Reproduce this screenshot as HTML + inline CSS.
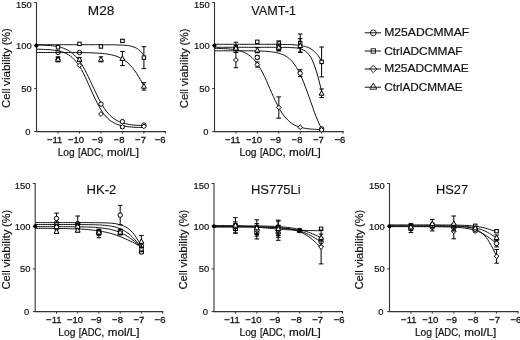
<!DOCTYPE html>
<html><head><meta charset="utf-8"><title>Cell viability</title>
<style>
html,body{margin:0;padding:0;background:#fff;}
svg{display:block}
text{font-family:"Liberation Sans","DejaVu Sans",sans-serif;fill:#111;stroke:#111;stroke-width:0.12px}
.yt{font-size:9.4px;stroke-width:0.2px}
.xt{font-size:9.5px;stroke-width:0.28px}
.xl{font-size:11px;stroke-width:0.22px}
.yl{font-size:11.8px;stroke-width:0.18px}
.tt{font-size:12.4px}
.lg{font-size:11.3px;stroke-width:0.2px}
</style></head><body>
<svg width="520" height="340" viewBox="0 0 520 340">
<rect width="520" height="340" fill="#fff"/>
<path d="M36.5 2.3V131.6H166" fill="none" stroke="#333" stroke-width="1.1"/>
<path d="M34.1 131.6H36.5" stroke="#333" stroke-width="1"/>
<text x="30.5" y="134.9" text-anchor="end" class="yt">0</text>
<path d="M34.1 88.6H36.5" stroke="#333" stroke-width="1"/>
<text x="31.7" y="91.9" text-anchor="end" class="yt">50</text>
<path d="M34.1 45.6H36.5" stroke="#333" stroke-width="1"/>
<text x="31.7" y="48.9" text-anchor="end" class="yt">100</text>
<path d="M34.1 2.6H36.5" stroke="#333" stroke-width="1"/>
<text x="31.7" y="7.8" text-anchor="end" class="yt">150</text>
<path d="M58 131.6v2" stroke="#333" stroke-width="1"/>
<text x="54.6" y="143.3" text-anchor="middle" class="xt">−11</text>
<path d="M79.5 131.6v2" stroke="#333" stroke-width="1"/>
<text x="76.1" y="143.3" text-anchor="middle" class="xt">−10</text>
<path d="M101 131.6v2" stroke="#333" stroke-width="1"/>
<text x="97.5" y="143.3" text-anchor="middle" class="xt">−9</text>
<path d="M122.4 131.6v2" stroke="#333" stroke-width="1"/>
<text x="119" y="143.3" text-anchor="middle" class="xt">−8</text>
<path d="M143.9 131.6v2" stroke="#333" stroke-width="1"/>
<text x="140.5" y="143.3" text-anchor="middle" class="xt">−7</text>
<path d="M165.4 131.6v2" stroke="#333" stroke-width="1"/>
<text x="160.2" y="143.3" text-anchor="middle" class="xt">−6</text>
<text y="155.7" class="xl"><tspan x="57.7" textLength="17" lengthAdjust="spacingAndGlyphs">Log</tspan> <tspan x="78.1" textLength="25.4" lengthAdjust="spacingAndGlyphs">[ADC,</tspan> <tspan x="107.1" textLength="31.9" lengthAdjust="spacingAndGlyphs">mol/L]</tspan></text>
<text transform="translate(9.5 67.9) rotate(-90)" class="yl"><tspan x="-40" textLength="19.3" lengthAdjust="spacingAndGlyphs">Cell</tspan> <tspan x="-18" textLength="38" lengthAdjust="spacingAndGlyphs">viability</tspan> <tspan x="22.6" textLength="17" lengthAdjust="spacingAndGlyphs">(%)</tspan></text>
<text x="87.8" y="14.6" class="tt" textLength="26.5" lengthAdjust="spacingAndGlyphs">M28</text>
<path d="M36.5 44.9 L38.3 45 L40.1 45 L41.9 45.1 L43.7 45.2 L45.5 45.3 L47.2 45.4 L49 45.5 L50.8 45.7 L52.6 45.9 L54.4 46.1 L56.2 46.4 L58 46.7 L59.8 47.1 L61.6 47.6 L63.4 48.2 L65.1 48.9 L66.9 49.7 L68.7 50.7 L70.5 51.9 L72.3 53.2 L74.1 54.8 L75.9 56.6 L77.7 58.7 L79.5 61.1 L81.3 63.7 L83 66.6 L84.8 69.8 L86.6 73.3 L88.4 76.9 L90.2 80.7 L92 84.6 L93.8 88.5 L95.6 92.3 L97.4 96 L99.2 99.6 L101 102.9 L102.7 105.9 L104.5 108.7 L106.3 111.1 L108.1 113.3 L109.9 115.3 L111.7 116.9 L113.5 118.4 L115.3 119.6 L117.1 120.6 L118.9 121.5 L120.6 122.3 L122.4 122.9 L124.2 123.4 L126 123.9 L127.8 124.2 L129.6 124.5 L131.4 124.8 L133.2 125 L135 125.2 L136.8 125.3 L138.5 125.4 L140.3 125.5 L142.1 125.6 L143.9 125.7" fill="none" stroke="#111" stroke-width="1.0"/>
<circle cx="58" cy="52.5" r="2.2" fill="#fff" stroke="#000" stroke-width="1.0"/>
<circle cx="79.5" cy="52.5" r="2.2" fill="#fff" stroke="#000" stroke-width="1.0"/>
<circle cx="101" cy="104.1" r="2.2" fill="#fff" stroke="#000" stroke-width="1.0"/>
<circle cx="122.4" cy="121.6" r="2.2" fill="#fff" stroke="#000" stroke-width="1.0"/>
<circle cx="143.9" cy="125.1" r="2.2" fill="#fff" stroke="#000" stroke-width="1.0"/>
<path d="M36.5 44.7 L38.3 44.7 L40.1 44.7 L41.9 44.7 L43.7 44.7 L45.5 44.7 L47.2 44.7 L49 44.7 L50.8 44.7 L52.6 44.7 L54.4 44.7 L56.2 44.7 L58 44.7 L59.8 44.7 L61.6 44.7 L63.4 44.7 L65.1 44.7 L66.9 44.7 L68.7 44.7 L70.5 44.7 L72.3 44.7 L74.1 44.7 L75.9 44.7 L77.7 44.7 L79.5 44.7 L81.3 44.7 L83 44.7 L84.8 44.7 L86.6 44.7 L88.4 44.7 L90.2 44.7 L92 44.7 L93.8 44.7 L95.6 44.7 L97.4 44.7 L99.2 44.7 L101 44.8 L102.7 44.8 L104.5 44.8 L106.3 44.8 L108.1 44.8 L109.9 44.8 L111.7 44.8 L113.5 44.8 L115.3 44.9 L117.1 44.9 L118.9 45 L120.6 45 L122.4 45.1 L124.2 45.2 L126 45.4 L127.8 45.6 L129.6 45.9 L131.4 46.3 L133.2 46.8 L135 47.5 L136.8 48.4 L138.5 49.6 L140.3 51.1 L142.1 53 L143.9 55.4" fill="none" stroke="#111" stroke-width="1.0"/>
<path d="M122.4 39.6V42.2M120.1 39.6H124.7M120.1 42.2H124.7" fill="none" stroke="#000" stroke-width="1.0"/>
<path d="M143.9 46.7V68.6M141.6 46.7H146.2M141.6 68.6H146.2" fill="none" stroke="#000" stroke-width="1.0"/>
<rect x="56.3" y="45.6" width="3.4" height="3.4" fill="#fff" stroke="#000" stroke-width="1.0"/>
<rect x="77.8" y="42.2" width="3.4" height="3.4" fill="#fff" stroke="#000" stroke-width="1.0"/>
<rect x="99.2" y="44.8" width="3.4" height="3.4" fill="#fff" stroke="#000" stroke-width="1.0"/>
<rect x="120.7" y="39.2" width="3.4" height="3.4" fill="#fff" stroke="#000" stroke-width="1.0"/>
<rect x="142.2" y="55.9" width="3.4" height="3.4" fill="#fff" stroke="#000" stroke-width="1.0"/>
<path d="M36.5 49.2 L38.3 49.2 L40.1 49.3 L41.9 49.3 L43.7 49.4 L45.5 49.5 L47.2 49.6 L49 49.7 L50.8 49.8 L52.6 50 L54.4 50.2 L56.2 50.5 L58 50.8 L59.8 51.2 L61.6 51.7 L63.4 52.3 L65.1 53 L66.9 53.9 L68.7 54.9 L70.5 56.2 L72.3 57.6 L74.1 59.4 L75.9 61.4 L77.7 63.7 L79.5 66.3 L81.3 69.3 L83 72.5 L84.8 76.1 L86.6 79.9 L88.4 83.8 L90.2 87.9 L92 92 L93.8 96 L95.6 99.8 L97.4 103.4 L99.2 106.7 L101 109.8 L102.7 112.5 L104.5 114.9 L106.3 116.9 L108.1 118.7 L109.9 120.3 L111.7 121.5 L113.5 122.6 L115.3 123.5 L117.1 124.3 L118.9 124.9 L120.6 125.4 L122.4 125.8 L124.2 126.2 L126 126.5 L127.8 126.7 L129.6 126.9 L131.4 127 L133.2 127.2 L135 127.3 L136.8 127.4 L138.5 127.4 L140.3 127.5 L142.1 127.5 L143.9 127.6" fill="none" stroke="#111" stroke-width="1.0"/>
<path d="M58 57.6V61.1M55.7 57.6H60.3M55.7 61.1H60.3" fill="none" stroke="#000" stroke-width="1.0"/>
<path d="M122.4 125.6V128.2M120.1 125.6H124.7M120.1 128.2H124.7" fill="none" stroke="#000" stroke-width="1.0"/>
<path d="M58 57L60.4 59.4L58 61.8L55.6 59.4Z" fill="#fff" stroke="#000" stroke-width="1.0"/>
<path d="M79.5 63L81.9 65.4L79.5 67.8L77.1 65.4Z" fill="#fff" stroke="#000" stroke-width="1.0"/>
<path d="M101 111.6L103.4 114L101 116.4L98.5 114Z" fill="#fff" stroke="#000" stroke-width="1.0"/>
<path d="M122.4 124.5L124.8 126.9L122.4 129.3L120 126.9Z" fill="#fff" stroke="#000" stroke-width="1.0"/>
<path d="M143.9 124L146.3 126.4L143.9 128.8L141.5 126.4Z" fill="#fff" stroke="#000" stroke-width="1.0"/>
<path d="M36.5 52.5 L38.3 52.5 L40.1 52.5 L41.9 52.5 L43.7 52.5 L45.5 52.5 L47.2 52.5 L49 52.5 L50.8 52.5 L52.6 52.5 L54.4 52.5 L56.2 52.5 L58 52.5 L59.8 52.5 L61.6 52.5 L63.4 52.5 L65.1 52.5 L66.9 52.5 L68.7 52.5 L70.5 52.5 L72.3 52.5 L74.1 52.5 L75.9 52.6 L77.7 52.6 L79.5 52.6 L81.3 52.6 L83 52.6 L84.8 52.7 L86.6 52.7 L88.4 52.7 L90.2 52.8 L92 52.8 L93.8 52.9 L95.6 53 L97.4 53.1 L99.2 53.2 L101 53.3 L102.7 53.5 L104.5 53.7 L106.3 53.9 L108.1 54.2 L109.9 54.5 L111.7 54.9 L113.5 55.3 L115.3 55.8 L117.1 56.5 L118.9 57.2 L120.6 58 L122.4 59 L124.2 60.1 L126 61.4 L127.8 62.9 L129.6 64.6 L131.4 66.5 L133.2 68.7 L135 71 L136.8 73.6 L138.5 76.5 L140.3 79.5 L142.1 82.7 L143.9 86" fill="none" stroke="#111" stroke-width="1.0"/>
<path d="M58 56.8V61.9M55.7 56.8H60.3M55.7 61.9H60.3" fill="none" stroke="#000" stroke-width="1.0"/>
<path d="M79.5 57.6V61.1M77.2 57.6H81.8M77.2 61.1H81.8" fill="none" stroke="#000" stroke-width="1.0"/>
<path d="M101 56.8V61.9M98.7 56.8H103.2M98.7 61.9H103.2" fill="none" stroke="#000" stroke-width="1.0"/>
<path d="M122.4 51.4V65.6M120.1 51.4H124.7M120.1 65.6H124.7" fill="none" stroke="#000" stroke-width="1.0"/>
<path d="M143.9 82.7V90.1M141.6 82.7H146.2M141.6 90.1H146.2" fill="none" stroke="#000" stroke-width="1.0"/>
<path d="M58 56.9L60.5 61.2L55.5 61.2Z" fill="#fff" stroke="#000" stroke-width="1.0"/>
<path d="M79.5 56.9L82 61.2L77 61.2Z" fill="#fff" stroke="#000" stroke-width="1.0"/>
<path d="M101 56.9L103.5 61.2L98.5 61.2Z" fill="#fff" stroke="#000" stroke-width="1.0"/>
<path d="M122.4 56L124.9 60.4L119.9 60.4Z" fill="#fff" stroke="#000" stroke-width="1.0"/>
<path d="M143.9 83.9L146.4 88.2L141.4 88.2Z" fill="#fff" stroke="#000" stroke-width="1.0"/>
<circle cx="36.5" cy="45.6" r="2.05" fill="#000"/>
<path d="M214.5 2.3V131.6H343.6" fill="none" stroke="#333" stroke-width="1.1"/>
<path d="M212.1 131.6H214.5" stroke="#333" stroke-width="1"/>
<text x="208.5" y="134.9" text-anchor="end" class="yt">0</text>
<path d="M212.1 88.6H214.5" stroke="#333" stroke-width="1"/>
<text x="209.7" y="91.9" text-anchor="end" class="yt">50</text>
<path d="M212.1 45.6H214.5" stroke="#333" stroke-width="1"/>
<text x="209.7" y="48.9" text-anchor="end" class="yt">100</text>
<path d="M212.1 2.6H214.5" stroke="#333" stroke-width="1"/>
<text x="209.7" y="7.8" text-anchor="end" class="yt">150</text>
<path d="M235.9 131.6v2" stroke="#333" stroke-width="1"/>
<text x="232.7" y="143.3" text-anchor="middle" class="xt">−11</text>
<path d="M257.3 131.6v2" stroke="#333" stroke-width="1"/>
<text x="254.1" y="143.3" text-anchor="middle" class="xt">−10</text>
<path d="M278.8 131.6v2" stroke="#333" stroke-width="1"/>
<text x="275.6" y="143.3" text-anchor="middle" class="xt">−9</text>
<path d="M300.2 131.6v2" stroke="#333" stroke-width="1"/>
<text x="297" y="143.3" text-anchor="middle" class="xt">−8</text>
<path d="M321.6 131.6v2" stroke="#333" stroke-width="1"/>
<text x="318.4" y="143.3" text-anchor="middle" class="xt">−7</text>
<path d="M343 131.6v2" stroke="#333" stroke-width="1"/>
<text x="339.8" y="143.3" text-anchor="middle" class="xt">−6</text>
<text y="155.7" class="xl"><tspan x="239.5" textLength="17" lengthAdjust="spacingAndGlyphs">Log</tspan> <tspan x="259.9" textLength="25.4" lengthAdjust="spacingAndGlyphs">[ADC,</tspan> <tspan x="288.9" textLength="31.9" lengthAdjust="spacingAndGlyphs">mol/L]</tspan></text>
<text transform="translate(187.5 68.2) rotate(-90)" class="yl"><tspan x="-40" textLength="19.3" lengthAdjust="spacingAndGlyphs">Cell</tspan> <tspan x="-18" textLength="38" lengthAdjust="spacingAndGlyphs">viability</tspan> <tspan x="22.6" textLength="17" lengthAdjust="spacingAndGlyphs">(%)</tspan></text>
<text x="251.2" y="14.6" class="tt" textLength="44.8" lengthAdjust="spacingAndGlyphs">VAMT-1</text>
<path d="M214.5 50.8 L216.3 50.8 L218.1 50.8 L219.9 50.8 L221.6 50.8 L223.4 50.8 L225.2 50.8 L227 50.8 L228.8 50.8 L230.6 50.8 L232.3 50.8 L234.1 50.8 L235.9 50.8 L237.7 50.8 L239.5 50.8 L241.3 50.8 L243.1 50.8 L244.8 50.8 L246.6 50.8 L248.4 50.8 L250.2 50.8 L252 50.9 L253.8 50.9 L255.5 50.9 L257.3 51 L259.1 51 L260.9 51.1 L262.7 51.1 L264.5 51.2 L266.3 51.3 L268 51.5 L269.8 51.6 L271.6 51.8 L273.4 52.1 L275.2 52.4 L277 52.8 L278.8 53.2 L280.5 53.8 L282.3 54.4 L284.1 55.2 L285.9 56.2 L287.7 57.4 L289.5 58.8 L291.2 60.5 L293 62.5 L294.8 64.9 L296.6 67.6 L298.4 70.7 L300.2 74.3 L302 78.2 L303.7 82.5 L305.5 87.2 L307.3 92.1 L309.1 97.1 L310.9 102.2 L312.7 107.3 L314.4 112.2 L316.2 116.9 L318 121.2 L319.8 125.2 L321.6 128.7" fill="none" stroke="#111" stroke-width="1.0"/>
<path d="M257.3 55.7V59.1M255 55.7H259.6M255 59.1H259.6" fill="none" stroke="#000" stroke-width="1.0"/>
<path d="M278.8 45.6V50.8M276.4 45.6H281.1M276.4 50.8H281.1" fill="none" stroke="#000" stroke-width="1.0"/>
<path d="M300.2 69.8V76.6M297.9 69.8H302.5M297.9 76.6H302.5" fill="none" stroke="#000" stroke-width="1.0"/>
<circle cx="235.9" cy="48.2" r="2.2" fill="#fff" stroke="#000" stroke-width="1.0"/>
<circle cx="257.3" cy="57.4" r="2.2" fill="#fff" stroke="#000" stroke-width="1.0"/>
<circle cx="278.8" cy="48.2" r="2.2" fill="#fff" stroke="#000" stroke-width="1.0"/>
<circle cx="300.2" cy="73.2" r="2.2" fill="#fff" stroke="#000" stroke-width="1.0"/>
<circle cx="321.6" cy="128.8" r="2.2" fill="#fff" stroke="#000" stroke-width="1.0"/>
<path d="M214.5 44.3 L216.3 44.3 L218.1 44.3 L219.9 44.3 L221.6 44.3 L223.4 44.3 L225.2 44.3 L227 44.3 L228.8 44.3 L230.6 44.3 L232.3 44.3 L234.1 44.3 L235.9 44.3 L237.7 44.3 L239.5 44.3 L241.3 44.3 L243.1 44.3 L244.8 44.3 L246.6 44.3 L248.4 44.3 L250.2 44.3 L252 44.3 L253.8 44.3 L255.5 44.3 L257.3 44.3 L259.1 44.3 L260.9 44.3 L262.7 44.3 L264.5 44.3 L266.3 44.3 L268 44.3 L269.8 44.3 L271.6 44.3 L273.4 44.3 L275.2 44.3 L277 44.4 L278.8 44.4 L280.5 44.4 L282.3 44.4 L284.1 44.4 L285.9 44.5 L287.7 44.5 L289.5 44.6 L291.2 44.6 L293 44.7 L294.8 44.8 L296.6 45 L298.4 45.2 L300.2 45.4 L302 45.7 L303.7 46.1 L305.5 46.6 L307.3 47.2 L309.1 47.9 L310.9 48.9 L312.7 50.1 L314.4 51.5 L316.2 53.3 L318 55.5 L319.8 58.1 L321.6 61.1" fill="none" stroke="#111" stroke-width="1.0"/>
<path d="M235.9 42.2V52.5M233.6 42.2H238.2M233.6 52.5H238.2" fill="none" stroke="#000" stroke-width="1.0"/>
<path d="M278.8 40.9V46M276.4 40.9H281.1M276.4 46H281.1" fill="none" stroke="#000" stroke-width="1.0"/>
<path d="M300.2 34V52M297.9 34H302.5M297.9 52H302.5" fill="none" stroke="#000" stroke-width="1.0"/>
<path d="M321.6 47V76.9M319.3 47H323.9M319.3 76.9H323.9" fill="none" stroke="#000" stroke-width="1.0"/>
<rect x="234.2" y="45.6" width="3.4" height="3.4" fill="#fff" stroke="#000" stroke-width="1.0"/>
<rect x="255.6" y="40.1" width="3.4" height="3.4" fill="#fff" stroke="#000" stroke-width="1.0"/>
<rect x="277.1" y="41.7" width="3.4" height="3.4" fill="#fff" stroke="#000" stroke-width="1.0"/>
<rect x="298.5" y="41.3" width="3.4" height="3.4" fill="#fff" stroke="#000" stroke-width="1.0"/>
<rect x="319.9" y="60.2" width="3.4" height="3.4" fill="#fff" stroke="#000" stroke-width="1.0"/>
<path d="M214.5 48.3 L216.3 48.4 L218.1 48.4 L219.9 48.5 L221.6 48.5 L223.4 48.6 L225.2 48.7 L227 48.8 L228.8 48.9 L230.6 49.1 L232.3 49.3 L234.1 49.6 L235.9 49.9 L237.7 50.2 L239.5 50.7 L241.3 51.2 L243.1 51.9 L244.8 52.7 L246.6 53.6 L248.4 54.7 L250.2 56 L252 57.6 L253.8 59.4 L255.5 61.5 L257.3 63.8 L259.1 66.6 L260.9 69.6 L262.7 72.9 L264.5 76.5 L266.3 80.4 L268 84.4 L269.8 88.5 L271.6 92.6 L273.4 96.6 L275.2 100.5 L277 104.2 L278.8 107.6 L280.5 110.7 L282.3 113.5 L284.1 116 L285.9 118.1 L287.7 120 L289.5 121.6 L291.2 123 L293 124.2 L294.8 125.2 L296.6 126 L298.4 126.7 L300.2 127.2 L302 127.7 L303.7 128.1 L305.5 128.4 L307.3 128.7 L309.1 128.9 L310.9 129.1 L312.7 129.2 L314.4 129.3 L316.2 129.4 L318 129.5 L319.8 129.6 L321.6 129.6" fill="none" stroke="#111" stroke-width="1.0"/>
<path d="M235.9 52.2V67.7M233.6 52.2H238.2M233.6 67.7H238.2" fill="none" stroke="#000" stroke-width="1.0"/>
<path d="M257.3 61.9V67.1M255 61.9H259.6M255 67.1H259.6" fill="none" stroke="#000" stroke-width="1.0"/>
<path d="M278.8 96.9V118.2M276.4 96.9H281.1M276.4 118.2H281.1" fill="none" stroke="#000" stroke-width="1.0"/>
<path d="M235.9 57.6L238.3 60L235.9 62.4L233.5 60Z" fill="#fff" stroke="#000" stroke-width="1.0"/>
<path d="M257.3 62.1L259.7 64.5L257.3 66.9L254.9 64.5Z" fill="#fff" stroke="#000" stroke-width="1.0"/>
<path d="M278.8 105.1L281.1 107.5L278.8 109.9L276.4 107.5Z" fill="#fff" stroke="#000" stroke-width="1.0"/>
<path d="M300.2 124.8L302.6 127.2L300.2 129.6L297.8 127.2Z" fill="#fff" stroke="#000" stroke-width="1.0"/>
<path d="M321.6 127.5L324 129.9L321.6 132.3L319.2 129.9Z" fill="#fff" stroke="#000" stroke-width="1.0"/>
<path d="M214.5 47.3 L216.3 47.3 L218.1 47.3 L219.9 47.3 L221.6 47.3 L223.4 47.3 L225.2 47.3 L227 47.3 L228.8 47.3 L230.6 47.3 L232.3 47.3 L234.1 47.3 L235.9 47.3 L237.7 47.3 L239.5 47.3 L241.3 47.3 L243.1 47.3 L244.8 47.3 L246.6 47.3 L248.4 47.3 L250.2 47.3 L252 47.3 L253.8 47.3 L255.5 47.3 L257.3 47.3 L259.1 47.3 L260.9 47.3 L262.7 47.3 L264.5 47.3 L266.3 47.3 L268 47.3 L269.8 47.3 L271.6 47.3 L273.4 47.3 L275.2 47.3 L277 47.3 L278.8 47.3 L280.5 47.4 L282.3 47.4 L284.1 47.4 L285.9 47.4 L287.7 47.4 L289.5 47.5 L291.2 47.6 L293 47.7 L294.8 47.8 L296.6 48 L298.4 48.3 L300.2 48.7 L302 49.3 L303.7 50.1 L305.5 51.2 L307.3 52.7 L309.1 54.8 L310.9 57.5 L312.7 61 L314.4 65.4 L316.2 70.8 L318 77 L319.8 84 L321.6 91.2" fill="none" stroke="#111" stroke-width="1.0"/>
<path d="M257.3 47.7V52.8M255 47.7H259.6M255 52.8H259.6" fill="none" stroke="#000" stroke-width="1.0"/>
<path d="M278.8 43.9V50.8M276.4 43.9H281.1M276.4 50.8H281.1" fill="none" stroke="#000" stroke-width="1.0"/>
<path d="M300.2 38.7V52.5M297.9 38.7H302.5M297.9 52.5H302.5" fill="none" stroke="#000" stroke-width="1.0"/>
<path d="M321.6 89V97.6M319.3 89H323.9M319.3 97.6H323.9" fill="none" stroke="#000" stroke-width="1.0"/>
<path d="M235.9 45.7L238.4 50.1L233.4 50.1Z" fill="#fff" stroke="#000" stroke-width="1.0"/>
<path d="M257.3 47.7L259.8 52.1L254.8 52.1Z" fill="#fff" stroke="#000" stroke-width="1.0"/>
<path d="M278.8 44.8L281.2 49.2L276.2 49.2Z" fill="#fff" stroke="#000" stroke-width="1.0"/>
<path d="M300.2 43.1L302.7 47.5L297.7 47.5Z" fill="#fff" stroke="#000" stroke-width="1.0"/>
<path d="M321.6 90.8L324.1 95.2L319.1 95.2Z" fill="#fff" stroke="#000" stroke-width="1.0"/>
<circle cx="214.5" cy="45.6" r="2.05" fill="#000"/>
<path d="M35.2 183.2V311.6H163.3" fill="none" stroke="#333" stroke-width="1.1"/>
<path d="M32.8 311.6H35.2" stroke="#333" stroke-width="1"/>
<text x="29.2" y="314.9" text-anchor="end" class="yt">0</text>
<path d="M32.8 268.9H35.2" stroke="#333" stroke-width="1"/>
<text x="30.4" y="272.2" text-anchor="end" class="yt">50</text>
<path d="M32.8 226.2H35.2" stroke="#333" stroke-width="1"/>
<text x="30.4" y="229.5" text-anchor="end" class="yt">100</text>
<path d="M32.8 183.5H35.2" stroke="#333" stroke-width="1"/>
<text x="30.4" y="188.7" text-anchor="end" class="yt">150</text>
<path d="M56.5 311.6v2" stroke="#333" stroke-width="1"/>
<text x="53.8" y="323.3" text-anchor="middle" class="xt">−11</text>
<path d="M77.7 311.6v2" stroke="#333" stroke-width="1"/>
<text x="75" y="323.3" text-anchor="middle" class="xt">−10</text>
<path d="M98.9 311.6v2" stroke="#333" stroke-width="1"/>
<text x="96.2" y="323.3" text-anchor="middle" class="xt">−9</text>
<path d="M120.2 311.6v2" stroke="#333" stroke-width="1"/>
<text x="117.5" y="323.3" text-anchor="middle" class="xt">−8</text>
<path d="M141.4 311.6v2" stroke="#333" stroke-width="1"/>
<text x="138.8" y="323.3" text-anchor="middle" class="xt">−7</text>
<path d="M162.7 311.6v2" stroke="#333" stroke-width="1"/>
<text x="160" y="323.3" text-anchor="middle" class="xt">−6</text>
<text y="335.7" class="xl"><tspan x="58.3" textLength="17" lengthAdjust="spacingAndGlyphs">Log</tspan> <tspan x="78.7" textLength="25.4" lengthAdjust="spacingAndGlyphs">[ADC,</tspan> <tspan x="107.7" textLength="31.9" lengthAdjust="spacingAndGlyphs">mol/L]</tspan></text>
<text transform="translate(9.9 249.5) rotate(-90)" class="yl"><tspan x="-40" textLength="19.3" lengthAdjust="spacingAndGlyphs">Cell</tspan> <tspan x="-18" textLength="38" lengthAdjust="spacingAndGlyphs">viability</tspan> <tspan x="22.6" textLength="17" lengthAdjust="spacingAndGlyphs">(%)</tspan></text>
<text x="86.6" y="193.7" class="tt" textLength="29.8" lengthAdjust="spacingAndGlyphs">HK-2</text>
<path d="M35.2 222.6 L37 222.6 L38.7 222.6 L40.5 222.6 L42.3 222.6 L44.1 222.6 L45.8 222.6 L47.6 222.6 L49.4 222.6 L51.1 222.6 L52.9 222.6 L54.7 222.6 L56.5 222.6 L58.2 222.6 L60 222.6 L61.8 222.6 L63.5 222.6 L65.3 222.6 L67.1 222.6 L68.8 222.6 L70.6 222.6 L72.4 222.6 L74.2 222.6 L75.9 222.6 L77.7 222.6 L79.5 222.6 L81.2 222.6 L83 222.6 L84.8 222.6 L86.6 222.6 L88.3 222.6 L90.1 222.6 L91.9 222.7 L93.6 222.7 L95.4 222.7 L97.2 222.7 L98.9 222.7 L100.7 222.8 L102.5 222.8 L104.3 222.8 L106 222.9 L107.8 223 L109.6 223.1 L111.3 223.2 L113.1 223.4 L114.9 223.6 L116.7 223.9 L118.4 224.3 L120.2 224.7 L122 225.3 L123.7 226 L125.5 226.8 L127.3 227.9 L129.1 229.2 L130.8 230.8 L132.6 232.6 L134.4 234.8 L136.1 237.2 L137.9 240 L139.7 242.9 L141.4 246" fill="none" stroke="#111" stroke-width="1.0"/>
<path d="M56.5 213.1V223.9M54.2 213.1H58.8M54.2 223.9H58.8" fill="none" stroke="#000" stroke-width="1.0"/>
<path d="M77.7 216V231.3M75.4 216H80M75.4 231.3H80" fill="none" stroke="#000" stroke-width="1.0"/>
<path d="M98.9 229.6V234.7M96.6 229.6H101.2M96.6 234.7H101.2" fill="none" stroke="#000" stroke-width="1.0"/>
<path d="M120.2 205.4V224.8M117.9 205.4H122.5M117.9 224.8H122.5" fill="none" stroke="#000" stroke-width="1.0"/>
<path d="M141.4 250.3V253.7M139.1 250.3H143.8M139.1 253.7H143.8" fill="none" stroke="#000" stroke-width="1.0"/>
<circle cx="56.5" cy="218.5" r="2.2" fill="#fff" stroke="#000" stroke-width="1.0"/>
<circle cx="77.7" cy="223.6" r="2.2" fill="#fff" stroke="#000" stroke-width="1.0"/>
<circle cx="98.9" cy="232.2" r="2.2" fill="#fff" stroke="#000" stroke-width="1.0"/>
<circle cx="120.2" cy="215.1" r="2.2" fill="#fff" stroke="#000" stroke-width="1.0"/>
<circle cx="141.4" cy="252" r="2.2" fill="#fff" stroke="#000" stroke-width="1.0"/>
<path d="M35.2 226.6 L37 226.6 L38.7 226.6 L40.5 226.6 L42.3 226.6 L44.1 226.6 L45.8 226.6 L47.6 226.6 L49.4 226.6 L51.1 226.6 L52.9 226.6 L54.7 226.7 L56.5 226.7 L58.2 226.7 L60 226.7 L61.8 226.7 L63.5 226.7 L65.3 226.7 L67.1 226.7 L68.8 226.7 L70.6 226.7 L72.4 226.7 L74.2 226.8 L75.9 226.8 L77.7 226.8 L79.5 226.8 L81.2 226.9 L83 226.9 L84.8 227 L86.6 227 L88.3 227.1 L90.1 227.1 L91.9 227.2 L93.6 227.3 L95.4 227.4 L97.2 227.6 L98.9 227.7 L100.7 227.9 L102.5 228.1 L104.3 228.3 L106 228.6 L107.8 228.9 L109.6 229.2 L111.3 229.6 L113.1 230.1 L114.9 230.6 L116.7 231.2 L118.4 231.8 L120.2 232.6 L122 233.4 L123.7 234.3 L125.5 235.2 L127.3 236.3 L129.1 237.4 L130.8 238.7 L132.6 239.9 L134.4 241.3 L136.1 242.7 L137.9 244.1 L139.7 245.5 L141.4 246.9" fill="none" stroke="#111" stroke-width="1.0"/>
<path d="M56.5 221.9V227.1M54.2 221.9H58.8M54.2 227.1H58.8" fill="none" stroke="#000" stroke-width="1.0"/>
<path d="M77.7 222.8V227.9M75.4 222.8H80M75.4 227.9H80" fill="none" stroke="#000" stroke-width="1.0"/>
<path d="M98.9 229.2V237.7M96.6 229.2H101.2M96.6 237.7H101.2" fill="none" stroke="#000" stroke-width="1.0"/>
<path d="M120.2 231.3V234.7M117.9 231.3H122.5M117.9 234.7H122.5" fill="none" stroke="#000" stroke-width="1.0"/>
<path d="M141.4 246.7V251.8M139.1 246.7H143.8M139.1 251.8H143.8" fill="none" stroke="#000" stroke-width="1.0"/>
<rect x="54.8" y="222.8" width="3.4" height="3.4" fill="#fff" stroke="#000" stroke-width="1.0"/>
<rect x="76" y="223.6" width="3.4" height="3.4" fill="#fff" stroke="#000" stroke-width="1.0"/>
<rect x="97.2" y="231.8" width="3.4" height="3.4" fill="#fff" stroke="#000" stroke-width="1.0"/>
<rect x="118.5" y="231.3" width="3.4" height="3.4" fill="#fff" stroke="#000" stroke-width="1.0"/>
<rect x="139.8" y="247.6" width="3.4" height="3.4" fill="#fff" stroke="#000" stroke-width="1.0"/>
<path d="M35.2 224.5 L37 224.5 L38.7 224.5 L40.5 224.5 L42.3 224.5 L44.1 224.5 L45.8 224.5 L47.6 224.5 L49.4 224.5 L51.1 224.5 L52.9 224.5 L54.7 224.5 L56.5 224.5 L58.2 224.5 L60 224.5 L61.8 224.5 L63.5 224.5 L65.3 224.5 L67.1 224.5 L68.8 224.5 L70.6 224.5 L72.4 224.5 L74.2 224.5 L75.9 224.5 L77.7 224.5 L79.5 224.5 L81.2 224.6 L83 224.6 L84.8 224.6 L86.6 224.6 L88.3 224.6 L90.1 224.7 L91.9 224.7 L93.6 224.7 L95.4 224.8 L97.2 224.9 L98.9 224.9 L100.7 225 L102.5 225.2 L104.3 225.3 L106 225.5 L107.8 225.7 L109.6 225.9 L111.3 226.2 L113.1 226.5 L114.9 226.9 L116.7 227.4 L118.4 228 L120.2 228.7 L122 229.5 L123.7 230.4 L125.5 231.5 L127.3 232.7 L129.1 234 L130.8 235.6 L132.6 237.3 L134.4 239.1 L136.1 241.1 L137.9 243.2 L139.7 245.3 L141.4 247.6" fill="none" stroke="#111" stroke-width="1.0"/>
<path d="M56.5 225.3V228.8M54.2 225.3H58.8M54.2 228.8H58.8" fill="none" stroke="#000" stroke-width="1.0"/>
<path d="M77.7 225.3V228.8M75.4 225.3H80M75.4 228.8H80" fill="none" stroke="#000" stroke-width="1.0"/>
<path d="M98.9 230.5V233.9M96.6 230.5H101.2M96.6 233.9H101.2" fill="none" stroke="#000" stroke-width="1.0"/>
<path d="M120.2 229.2V232.6M117.9 229.2H122.5M117.9 232.6H122.5" fill="none" stroke="#000" stroke-width="1.0"/>
<path d="M141.4 244.1V247.6M139.1 244.1H143.8M139.1 247.6H143.8" fill="none" stroke="#000" stroke-width="1.0"/>
<path d="M56.5 224.7L58.9 227.1L56.5 229.5L54.1 227.1Z" fill="#fff" stroke="#000" stroke-width="1.0"/>
<path d="M77.7 224.7L80.1 227.1L77.7 229.5L75.3 227.1Z" fill="#fff" stroke="#000" stroke-width="1.0"/>
<path d="M98.9 229.8L101.3 232.2L98.9 234.6L96.5 232.2Z" fill="#fff" stroke="#000" stroke-width="1.0"/>
<path d="M120.2 228.5L122.6 230.9L120.2 233.3L117.8 230.9Z" fill="#fff" stroke="#000" stroke-width="1.0"/>
<path d="M141.4 243.4L143.8 245.8L141.4 248.2L139 245.8Z" fill="#fff" stroke="#000" stroke-width="1.0"/>
<path d="M35.2 228.3 L37 228.3 L38.7 228.3 L40.5 228.3 L42.3 228.3 L44.1 228.3 L45.8 228.3 L47.6 228.4 L49.4 228.4 L51.1 228.4 L52.9 228.4 L54.7 228.4 L56.5 228.4 L58.2 228.5 L60 228.5 L61.8 228.5 L63.5 228.5 L65.3 228.6 L67.1 228.6 L68.8 228.7 L70.6 228.7 L72.4 228.8 L74.2 228.8 L75.9 228.9 L77.7 229 L79.5 229 L81.2 229.1 L83 229.2 L84.8 229.4 L86.6 229.5 L88.3 229.6 L90.1 229.8 L91.9 230 L93.6 230.2 L95.4 230.4 L97.2 230.6 L98.9 230.9 L100.7 231.2 L102.5 231.5 L104.3 231.9 L106 232.2 L107.8 232.7 L109.6 233.1 L111.3 233.6 L113.1 234.1 L114.9 234.7 L116.7 235.3 L118.4 235.9 L120.2 236.6 L122 237.3 L123.7 238.1 L125.5 238.9 L127.3 239.7 L129.1 240.5 L130.8 241.4 L132.6 242.2 L134.4 243.1 L136.1 244 L137.9 244.8 L139.7 245.7 L141.4 246.6" fill="none" stroke="#111" stroke-width="1.0"/>
<path d="M56.5 229.8V233.2M54.2 229.8H58.8M54.2 233.2H58.8" fill="none" stroke="#000" stroke-width="1.0"/>
<path d="M77.7 228.6V232M75.4 228.6H80M75.4 232H80" fill="none" stroke="#000" stroke-width="1.0"/>
<path d="M98.9 230.5V233.9M96.6 230.5H101.2M96.6 233.9H101.2" fill="none" stroke="#000" stroke-width="1.0"/>
<path d="M120.2 229.6V234.7M117.9 229.6H122.5M117.9 234.7H122.5" fill="none" stroke="#000" stroke-width="1.0"/>
<path d="M141.4 235.4V247.4M139.1 235.4H143.8M139.1 247.4H143.8" fill="none" stroke="#000" stroke-width="1.0"/>
<path d="M56.5 229L59 233.4L54 233.4Z" fill="#fff" stroke="#000" stroke-width="1.0"/>
<path d="M77.7 227.8L80.2 232.2L75.2 232.2Z" fill="#fff" stroke="#000" stroke-width="1.0"/>
<path d="M98.9 229.7L101.4 234.1L96.4 234.1Z" fill="#fff" stroke="#000" stroke-width="1.0"/>
<path d="M120.2 229.7L122.7 234.1L117.7 234.1Z" fill="#fff" stroke="#000" stroke-width="1.0"/>
<path d="M141.4 238.9L143.9 243.3L138.9 243.3Z" fill="#fff" stroke="#000" stroke-width="1.0"/>
<circle cx="35.2" cy="226.2" r="2.05" fill="#000"/>
<path d="M214 183.2V311.6H343.1" fill="none" stroke="#333" stroke-width="1.1"/>
<path d="M211.6 311.6H214" stroke="#333" stroke-width="1"/>
<text x="208" y="314.9" text-anchor="end" class="yt">0</text>
<path d="M211.6 268.9H214" stroke="#333" stroke-width="1"/>
<text x="209.2" y="272.2" text-anchor="end" class="yt">50</text>
<path d="M211.6 226.2H214" stroke="#333" stroke-width="1"/>
<text x="209.2" y="229.5" text-anchor="end" class="yt">100</text>
<path d="M211.6 183.5H214" stroke="#333" stroke-width="1"/>
<text x="209.2" y="188.7" text-anchor="end" class="yt">150</text>
<path d="M235.4 311.6v2" stroke="#333" stroke-width="1"/>
<text x="232" y="323.3" text-anchor="middle" class="xt">−11</text>
<path d="M256.8 311.6v2" stroke="#333" stroke-width="1"/>
<text x="253.4" y="323.3" text-anchor="middle" class="xt">−10</text>
<path d="M278.2 311.6v2" stroke="#333" stroke-width="1"/>
<text x="274.9" y="323.3" text-anchor="middle" class="xt">−9</text>
<path d="M299.7 311.6v2" stroke="#333" stroke-width="1"/>
<text x="296.3" y="323.3" text-anchor="middle" class="xt">−8</text>
<path d="M321.1 311.6v2" stroke="#333" stroke-width="1"/>
<text x="317.7" y="323.3" text-anchor="middle" class="xt">−7</text>
<path d="M342.5 311.6v2" stroke="#333" stroke-width="1"/>
<text x="339.1" y="323.3" text-anchor="middle" class="xt">−6</text>
<text y="335.7" class="xl"><tspan x="239.5" textLength="17" lengthAdjust="spacingAndGlyphs">Log</tspan> <tspan x="259.9" textLength="25.4" lengthAdjust="spacingAndGlyphs">[ADC,</tspan> <tspan x="288.9" textLength="31.9" lengthAdjust="spacingAndGlyphs">mol/L]</tspan></text>
<text transform="translate(187 249.5) rotate(-90)" class="yl"><tspan x="-40" textLength="19.3" lengthAdjust="spacingAndGlyphs">Cell</tspan> <tspan x="-18" textLength="38" lengthAdjust="spacingAndGlyphs">viability</tspan> <tspan x="22.6" textLength="17" lengthAdjust="spacingAndGlyphs">(%)</tspan></text>
<text x="250.9" y="193.7" class="tt" textLength="49.8" lengthAdjust="spacingAndGlyphs">HS775Li</text>
<path d="M214 226.6 L215.8 226.6 L217.6 226.6 L219.4 226.6 L221.1 226.6 L222.9 226.6 L224.7 226.6 L226.5 226.6 L228.3 226.6 L230.1 226.6 L231.8 226.6 L233.6 226.7 L235.4 226.7 L237.2 226.7 L239 226.7 L240.8 226.7 L242.6 226.7 L244.3 226.7 L246.1 226.7 L247.9 226.7 L249.7 226.7 L251.5 226.7 L253.3 226.7 L255 226.8 L256.8 226.8 L258.6 226.8 L260.4 226.8 L262.2 226.9 L264 226.9 L265.8 227 L267.5 227 L269.3 227.1 L271.1 227.1 L272.9 227.2 L274.7 227.3 L276.5 227.4 L278.2 227.5 L280 227.6 L281.8 227.8 L283.6 228 L285.4 228.2 L287.2 228.4 L289 228.6 L290.7 228.9 L292.5 229.2 L294.3 229.6 L296.1 230 L297.9 230.5 L299.7 231 L301.5 231.6 L303.2 232.2 L305 232.9 L306.8 233.7 L308.6 234.6 L310.4 235.5 L312.2 236.4 L313.9 237.5 L315.7 238.5 L317.5 239.7 L319.3 240.8 L321.1 242" fill="none" stroke="#111" stroke-width="1.0"/>
<path d="M235.4 224.5V233M233.1 224.5H237.7M233.1 233H237.7" fill="none" stroke="#000" stroke-width="1.0"/>
<path d="M256.8 225.3V239M254.5 225.3H259.1M254.5 239H259.1" fill="none" stroke="#000" stroke-width="1.0"/>
<path d="M278.2 225.8V240.3M275.9 225.8H280.6M275.9 240.3H280.6" fill="none" stroke="#000" stroke-width="1.0"/>
<path d="M321.1 237.6V246.1M318.8 237.6H323.4M318.8 246.1H323.4" fill="none" stroke="#000" stroke-width="1.0"/>
<circle cx="235.4" cy="228.8" r="2.2" fill="#fff" stroke="#000" stroke-width="1.0"/>
<circle cx="256.8" cy="232.2" r="2.2" fill="#fff" stroke="#000" stroke-width="1.0"/>
<circle cx="278.2" cy="233" r="2.2" fill="#fff" stroke="#000" stroke-width="1.0"/>
<circle cx="299.7" cy="230.5" r="2.2" fill="#fff" stroke="#000" stroke-width="1.0"/>
<circle cx="321.1" cy="241.8" r="2.2" fill="#fff" stroke="#000" stroke-width="1.0"/>
<path d="M214 225.5 L215.8 225.5 L217.6 225.6 L219.4 225.6 L221.1 225.6 L222.9 225.6 L224.7 225.7 L226.5 225.7 L228.3 225.8 L230.1 225.8 L231.8 225.9 L233.6 225.9 L235.4 226 L237.2 226 L239 226.1 L240.8 226.2 L242.6 226.3 L244.3 226.4 L246.1 226.5 L247.9 226.6 L249.7 226.7 L251.5 226.8 L253.3 226.9 L255 227.1 L256.8 227.2 L258.6 227.3 L260.4 227.5 L262.2 227.6 L264 227.8 L265.8 228 L267.5 228.1 L269.3 228.3 L271.1 228.4 L272.9 228.6 L274.7 228.7 L276.5 228.9 L278.2 229 L280 229.2 L281.8 229.3 L283.6 229.4 L285.4 229.6 L287.2 229.7 L289 229.8 L290.7 229.9 L292.5 230 L294.3 230.1 L296.1 230.1 L297.9 230.2 L299.7 230.3 L301.5 230.3 L303.2 230.4 L305 230.4 L306.8 230.5 L308.6 230.5 L310.4 230.6 L312.2 230.6 L313.9 230.6 L315.7 230.7 L317.5 230.7 L319.3 230.7 L321.1 230.7" fill="none" stroke="#111" stroke-width="1.0"/>
<path d="M235.4 221.9V230.5M233.1 221.9H237.7M233.1 230.5H237.7" fill="none" stroke="#000" stroke-width="1.0"/>
<path d="M256.8 223.6V233.9M254.5 223.6H259.1M254.5 233.9H259.1" fill="none" stroke="#000" stroke-width="1.0"/>
<path d="M278.2 221.1V233M275.9 221.1H280.6M275.9 233H280.6" fill="none" stroke="#000" stroke-width="1.0"/>
<rect x="233.7" y="224.5" width="3.4" height="3.4" fill="#fff" stroke="#000" stroke-width="1.0"/>
<rect x="255.1" y="227.1" width="3.4" height="3.4" fill="#fff" stroke="#000" stroke-width="1.0"/>
<rect x="276.6" y="225.4" width="3.4" height="3.4" fill="#fff" stroke="#000" stroke-width="1.0"/>
<rect x="298" y="228.8" width="3.4" height="3.4" fill="#fff" stroke="#000" stroke-width="1.0"/>
<rect x="319.4" y="227.1" width="3.4" height="3.4" fill="#fff" stroke="#000" stroke-width="1.0"/>
<path d="M214 227.1 L215.8 227.1 L217.6 227.1 L219.4 227.1 L221.1 227.1 L222.9 227.1 L224.7 227.1 L226.5 227.1 L228.3 227.1 L230.1 227.1 L231.8 227.1 L233.6 227.1 L235.4 227.1 L237.2 227.1 L239 227.1 L240.8 227.1 L242.6 227.1 L244.3 227.1 L246.1 227.1 L247.9 227.1 L249.7 227.1 L251.5 227.1 L253.3 227.1 L255 227.1 L256.8 227.2 L258.6 227.2 L260.4 227.2 L262.2 227.2 L264 227.3 L265.8 227.3 L267.5 227.3 L269.3 227.4 L271.1 227.4 L272.9 227.5 L274.7 227.6 L276.5 227.7 L278.2 227.8 L280 227.9 L281.8 228.1 L283.6 228.3 L285.4 228.5 L287.2 228.7 L289 229 L290.7 229.3 L292.5 229.7 L294.3 230.1 L296.1 230.6 L297.9 231.2 L299.7 231.9 L301.5 232.6 L303.2 233.4 L305 234.4 L306.8 235.5 L308.6 236.6 L310.4 237.9 L312.2 239.4 L313.9 240.9 L315.7 242.5 L317.5 244.2 L319.3 246 L321.1 247.9" fill="none" stroke="#111" stroke-width="1.0"/>
<path d="M235.4 223.6V230.5M233.1 223.6H237.7M233.1 230.5H237.7" fill="none" stroke="#000" stroke-width="1.0"/>
<path d="M256.8 226.2V234.7M254.5 226.2H259.1M254.5 234.7H259.1" fill="none" stroke="#000" stroke-width="1.0"/>
<path d="M278.2 225.3V235.6M275.9 225.3H280.6M275.9 235.6H280.6" fill="none" stroke="#000" stroke-width="1.0"/>
<path d="M321.1 230V263.9M318.8 230H323.4M318.8 263.9H323.4" fill="none" stroke="#000" stroke-width="1.0"/>
<path d="M235.4 224.7L237.8 227.1L235.4 229.5L233 227.1Z" fill="#fff" stroke="#000" stroke-width="1.0"/>
<path d="M256.8 228.1L259.2 230.5L256.8 232.9L254.4 230.5Z" fill="#fff" stroke="#000" stroke-width="1.0"/>
<path d="M278.2 228.1L280.6 230.5L278.2 232.9L275.9 230.5Z" fill="#fff" stroke="#000" stroke-width="1.0"/>
<path d="M299.7 228.1L302.1 230.5L299.7 232.9L297.3 230.5Z" fill="#fff" stroke="#000" stroke-width="1.0"/>
<path d="M321.1 244.6L323.5 247L321.1 249.4L318.7 247Z" fill="#fff" stroke="#000" stroke-width="1.0"/>
<path d="M214 225.8 L215.8 225.8 L217.6 225.8 L219.4 225.8 L221.1 225.8 L222.9 225.8 L224.7 225.8 L226.5 225.8 L228.3 225.8 L230.1 225.8 L231.8 225.8 L233.6 225.8 L235.4 225.8 L237.2 225.8 L239 225.8 L240.8 225.8 L242.6 225.8 L244.3 225.8 L246.1 225.9 L247.9 225.9 L249.7 225.9 L251.5 225.9 L253.3 225.9 L255 225.9 L256.8 225.9 L258.6 226 L260.4 226 L262.2 226 L264 226.1 L265.8 226.1 L267.5 226.2 L269.3 226.2 L271.1 226.3 L272.9 226.3 L274.7 226.4 L276.5 226.5 L278.2 226.6 L280 226.7 L281.8 226.9 L283.6 227 L285.4 227.2 L287.2 227.4 L289 227.6 L290.7 227.9 L292.5 228.1 L294.3 228.4 L296.1 228.8 L297.9 229.1 L299.7 229.6 L301.5 230 L303.2 230.5 L305 231.1 L306.8 231.6 L308.6 232.3 L310.4 232.9 L312.2 233.7 L313.9 234.4 L315.7 235.2 L317.5 236 L319.3 236.9 L321.1 237.7" fill="none" stroke="#111" stroke-width="1.0"/>
<path d="M235.4 217.7V233M233.1 217.7H237.7M233.1 233H237.7" fill="none" stroke="#000" stroke-width="1.0"/>
<path d="M256.8 219.8V236M254.5 219.8H259.1M254.5 236H259.1" fill="none" stroke="#000" stroke-width="1.0"/>
<path d="M278.2 220.2V237.3M275.9 220.2H280.6M275.9 237.3H280.6" fill="none" stroke="#000" stroke-width="1.0"/>
<path d="M321.1 234.1V241M318.8 234.1H323.4M318.8 241H323.4" fill="none" stroke="#000" stroke-width="1.0"/>
<path d="M235.4 222.8L237.9 227.2L232.9 227.2Z" fill="#fff" stroke="#000" stroke-width="1.0"/>
<path d="M256.8 225.4L259.3 229.8L254.3 229.8Z" fill="#fff" stroke="#000" stroke-width="1.0"/>
<path d="M278.2 226.3L280.8 230.6L275.8 230.6Z" fill="#fff" stroke="#000" stroke-width="1.0"/>
<path d="M299.7 228L302.2 232.3L297.2 232.3Z" fill="#fff" stroke="#000" stroke-width="1.0"/>
<path d="M321.1 235.1L323.6 239.4L318.6 239.4Z" fill="#fff" stroke="#000" stroke-width="1.0"/>
<circle cx="214" cy="226.2" r="2.05" fill="#000"/>
<circle cx="299.7" cy="230.5" r="2" fill="#000"/>
<path d="M389.5 183.2V311.6H518.6" fill="none" stroke="#333" stroke-width="1.1"/>
<path d="M387.1 311.6H389.5" stroke="#333" stroke-width="1"/>
<text x="383.5" y="314.9" text-anchor="end" class="yt">0</text>
<path d="M387.1 268.9H389.5" stroke="#333" stroke-width="1"/>
<text x="384.7" y="272.2" text-anchor="end" class="yt">50</text>
<path d="M387.1 226.2H389.5" stroke="#333" stroke-width="1"/>
<text x="384.7" y="229.5" text-anchor="end" class="yt">100</text>
<path d="M387.1 183.5H389.5" stroke="#333" stroke-width="1"/>
<text x="384.7" y="188.7" text-anchor="end" class="yt">150</text>
<path d="M410.9 311.6v2" stroke="#333" stroke-width="1"/>
<text x="408.8" y="323.3" text-anchor="middle" class="xt">−11</text>
<path d="M432.3 311.6v2" stroke="#333" stroke-width="1"/>
<text x="430.2" y="323.3" text-anchor="middle" class="xt">−10</text>
<path d="M453.8 311.6v2" stroke="#333" stroke-width="1"/>
<text x="451.6" y="323.3" text-anchor="middle" class="xt">−9</text>
<path d="M475.2 311.6v2" stroke="#333" stroke-width="1"/>
<text x="473.1" y="323.3" text-anchor="middle" class="xt">−8</text>
<path d="M496.6 311.6v2" stroke="#333" stroke-width="1"/>
<text x="494.5" y="323.3" text-anchor="middle" class="xt">−7</text>
<path d="M518 311.6v2" stroke="#333" stroke-width="1"/>
<text x="515.9" y="323.3" text-anchor="middle" class="xt">−6</text>
<text y="335.7" class="xl"><tspan x="414.9" textLength="17" lengthAdjust="spacingAndGlyphs">Log</tspan> <tspan x="435.3" textLength="25.4" lengthAdjust="spacingAndGlyphs">[ADC,</tspan> <tspan x="464.3" textLength="31.9" lengthAdjust="spacingAndGlyphs">mol/L]</tspan></text>
<text transform="translate(363.3 249.5) rotate(-90)" class="yl"><tspan x="-40" textLength="19.3" lengthAdjust="spacingAndGlyphs">Cell</tspan> <tspan x="-18" textLength="38" lengthAdjust="spacingAndGlyphs">viability</tspan> <tspan x="22.6" textLength="17" lengthAdjust="spacingAndGlyphs">(%)</tspan></text>
<text x="436" y="193.7" class="tt" textLength="32" lengthAdjust="spacingAndGlyphs">HS27</text>
<path d="M389.5 226.6 L391.3 226.6 L393.1 226.6 L394.9 226.6 L396.6 226.6 L398.4 226.6 L400.2 226.6 L402 226.6 L403.8 226.6 L405.6 226.6 L407.3 226.6 L409.1 226.6 L410.9 226.6 L412.7 226.6 L414.5 226.6 L416.3 226.6 L418.1 226.6 L419.8 226.6 L421.6 226.7 L423.4 226.7 L425.2 226.7 L427 226.7 L428.8 226.7 L430.5 226.7 L432.3 226.7 L434.1 226.7 L435.9 226.7 L437.7 226.7 L439.5 226.8 L441.3 226.8 L443 226.8 L444.8 226.9 L446.6 226.9 L448.4 226.9 L450.2 227 L452 227.1 L453.8 227.2 L455.5 227.3 L457.3 227.4 L459.1 227.5 L460.9 227.7 L462.7 227.8 L464.5 228.1 L466.2 228.3 L468 228.6 L469.8 229 L471.6 229.4 L473.4 229.9 L475.2 230.4 L477 231 L478.7 231.7 L480.5 232.5 L482.3 233.4 L484.1 234.4 L485.9 235.5 L487.7 236.6 L489.4 237.9 L491.2 239.2 L493 240.6 L494.8 242 L496.6 243.5" fill="none" stroke="#111" stroke-width="1.0"/>
<path d="M410.9 224.9V232.6M408.6 224.9H413.2M408.6 232.6H413.2" fill="none" stroke="#000" stroke-width="1.0"/>
<path d="M432.3 223.2V230.9M430 223.2H434.6M430 230.9H434.6" fill="none" stroke="#000" stroke-width="1.0"/>
<path d="M496.6 240V246.9M494.3 240H498.9M494.3 246.9H498.9" fill="none" stroke="#000" stroke-width="1.0"/>
<circle cx="410.9" cy="228.8" r="2.2" fill="#fff" stroke="#000" stroke-width="1.0"/>
<circle cx="432.3" cy="227.1" r="2.2" fill="#fff" stroke="#000" stroke-width="1.0"/>
<circle cx="453.8" cy="227.9" r="2.2" fill="#fff" stroke="#000" stroke-width="1.0"/>
<circle cx="475.2" cy="230.9" r="2.2" fill="#fff" stroke="#000" stroke-width="1.0"/>
<circle cx="496.6" cy="243.5" r="2.2" fill="#fff" stroke="#000" stroke-width="1.0"/>
<path d="M389.5 224.9 L391.3 224.9 L393.1 224.9 L394.9 224.9 L396.6 224.9 L398.4 224.9 L400.2 224.9 L402 224.9 L403.8 224.9 L405.6 224.9 L407.3 224.9 L409.1 224.9 L410.9 224.9 L412.7 224.9 L414.5 224.9 L416.3 224.9 L418.1 224.9 L419.8 224.9 L421.6 224.9 L423.4 224.9 L425.2 224.9 L427 224.9 L428.8 224.9 L430.5 224.9 L432.3 224.9 L434.1 224.9 L435.9 224.9 L437.7 224.9 L439.5 224.9 L441.3 225 L443 225 L444.8 225 L446.6 225 L448.4 225 L450.2 225 L452 225 L453.8 225.1 L455.5 225.1 L457.3 225.1 L459.1 225.2 L460.9 225.2 L462.7 225.3 L464.5 225.4 L466.2 225.4 L468 225.5 L469.8 225.7 L471.6 225.8 L473.4 226 L475.2 226.2 L477 226.4 L478.7 226.7 L480.5 227 L482.3 227.4 L484.1 227.8 L485.9 228.3 L487.7 228.8 L489.4 229.4 L491.2 230 L493 230.6 L494.8 231.3 L496.6 232" fill="none" stroke="#111" stroke-width="1.0"/>
<path d="M496.6 230V232.5M494.3 230H498.9M494.3 232.5H498.9" fill="none" stroke="#000" stroke-width="1.0"/>
<rect x="409.2" y="224.5" width="3.4" height="3.4" fill="#fff" stroke="#000" stroke-width="1.0"/>
<rect x="430.6" y="223.6" width="3.4" height="3.4" fill="#fff" stroke="#000" stroke-width="1.0"/>
<rect x="452.1" y="224.5" width="3.4" height="3.4" fill="#fff" stroke="#000" stroke-width="1.0"/>
<rect x="473.5" y="224.1" width="3.4" height="3.4" fill="#fff" stroke="#000" stroke-width="1.0"/>
<rect x="494.9" y="229.5" width="3.4" height="3.4" fill="#fff" stroke="#000" stroke-width="1.0"/>
<path d="M389.5 226.2 L391.3 226.2 L393.1 226.2 L394.9 226.2 L396.6 226.2 L398.4 226.2 L400.2 226.2 L402 226.2 L403.8 226.2 L405.6 226.2 L407.3 226.2 L409.1 226.2 L410.9 226.2 L412.7 226.2 L414.5 226.2 L416.3 226.2 L418.1 226.2 L419.8 226.2 L421.6 226.2 L423.4 226.2 L425.2 226.2 L427 226.2 L428.8 226.2 L430.5 226.2 L432.3 226.2 L434.1 226.2 L435.9 226.2 L437.7 226.2 L439.5 226.2 L441.3 226.2 L443 226.2 L444.8 226.2 L446.6 226.3 L448.4 226.3 L450.2 226.3 L452 226.3 L453.8 226.3 L455.5 226.4 L457.3 226.4 L459.1 226.5 L460.9 226.6 L462.7 226.7 L464.5 226.9 L466.2 227 L468 227.3 L469.8 227.6 L471.6 228 L473.4 228.4 L475.2 229.1 L477 229.8 L478.7 230.8 L480.5 231.9 L482.3 233.4 L484.1 235.1 L485.9 237.1 L487.7 239.5 L489.4 242.3 L491.2 245.4 L493 248.8 L494.8 252.4 L496.6 256.1" fill="none" stroke="#111" stroke-width="1.0"/>
<path d="M410.9 223.6V230.5M408.6 223.6H413.2M408.6 230.5H413.2" fill="none" stroke="#000" stroke-width="1.0"/>
<path d="M453.8 223.9V238.8M451.4 223.9H456.1M451.4 238.8H456.1" fill="none" stroke="#000" stroke-width="1.0"/>
<path d="M496.6 249.5V263.2M494.3 249.5H498.9M494.3 263.2H498.9" fill="none" stroke="#000" stroke-width="1.0"/>
<path d="M410.9 224.7L413.3 227.1L410.9 229.5L408.5 227.1Z" fill="#fff" stroke="#000" stroke-width="1.0"/>
<path d="M432.3 223.8L434.7 226.2L432.3 228.6L429.9 226.2Z" fill="#fff" stroke="#000" stroke-width="1.0"/>
<path d="M453.8 228.9L456.1 231.3L453.8 233.7L451.4 231.3Z" fill="#fff" stroke="#000" stroke-width="1.0"/>
<path d="M475.2 227.2L477.6 229.6L475.2 232L472.8 229.6Z" fill="#fff" stroke="#000" stroke-width="1.0"/>
<path d="M496.6 253.9L499 256.3L496.6 258.7L494.2 256.3Z" fill="#fff" stroke="#000" stroke-width="1.0"/>
<path d="M389.5 225.8 L391.3 225.8 L393.1 225.8 L394.9 225.8 L396.6 225.8 L398.4 225.8 L400.2 225.8 L402 225.8 L403.8 225.8 L405.6 225.8 L407.3 225.8 L409.1 225.8 L410.9 225.8 L412.7 225.8 L414.5 225.8 L416.3 225.8 L418.1 225.8 L419.8 225.8 L421.6 225.8 L423.4 225.8 L425.2 225.8 L427 225.8 L428.8 225.8 L430.5 225.8 L432.3 225.8 L434.1 225.8 L435.9 225.8 L437.7 225.8 L439.5 225.8 L441.3 225.8 L443 225.8 L444.8 225.9 L446.6 225.9 L448.4 225.9 L450.2 225.9 L452 226 L453.8 226 L455.5 226.1 L457.3 226.1 L459.1 226.2 L460.9 226.3 L462.7 226.4 L464.5 226.5 L466.2 226.6 L468 226.8 L469.8 227 L471.6 227.3 L473.4 227.6 L475.2 227.9 L477 228.3 L478.7 228.8 L480.5 229.3 L482.3 230 L484.1 230.7 L485.9 231.5 L487.7 232.4 L489.4 233.4 L491.2 234.5 L493 235.6 L494.8 236.8 L496.6 238" fill="none" stroke="#111" stroke-width="1.0"/>
<path d="M432.3 219.4V227.9M430 219.4H434.6M430 227.9H434.6" fill="none" stroke="#000" stroke-width="1.0"/>
<path d="M453.8 216V231M451.4 216H456.1M451.4 231H456.1" fill="none" stroke="#000" stroke-width="1.0"/>
<path d="M475.2 226.6V229.2M472.9 226.6H477.5M472.9 229.2H477.5" fill="none" stroke="#000" stroke-width="1.0"/>
<path d="M496.6 235V240.1M494.3 235H498.9M494.3 240.1H498.9" fill="none" stroke="#000" stroke-width="1.0"/>
<path d="M410.9 224.6L413.4 228.9L408.4 228.9Z" fill="#fff" stroke="#000" stroke-width="1.0"/>
<path d="M432.3 221.1L434.8 225.5L429.8 225.5Z" fill="#fff" stroke="#000" stroke-width="1.0"/>
<path d="M453.8 221L456.2 225.3L451.2 225.3Z" fill="#fff" stroke="#000" stroke-width="1.0"/>
<path d="M475.2 225.4L477.7 229.8L472.7 229.8Z" fill="#fff" stroke="#000" stroke-width="1.0"/>
<path d="M496.6 235.1L499.1 239.4L494.1 239.4Z" fill="#fff" stroke="#000" stroke-width="1.0"/>
<circle cx="389.5" cy="226.2" r="2.05" fill="#000"/>
<path d="M364.7 32.8H381" stroke="#111" stroke-width="1.0"/>
<circle cx="373.3" cy="32.8" r="2.9" fill="none" stroke="#000" stroke-width="0.85"/>
<text x="384.2" y="36.3" class="lg" textLength="85" lengthAdjust="spacingAndGlyphs">M25ADCMMAF</text>
<path d="M364.7 51H381" stroke="#111" stroke-width="1.0"/>
<rect x="371.1" y="48.8" width="4.4" height="4.4" fill="none" stroke="#000" stroke-width="0.85"/>
<text x="384.2" y="54.8" class="lg" textLength="78.4" lengthAdjust="spacingAndGlyphs">CtrlADCMMAF</text>
<path d="M364.7 69H381" stroke="#111" stroke-width="1.0"/>
<path d="M373.3 65.4L376.9 69L373.3 72.6L369.7 69Z" fill="none" stroke="#000" stroke-width="0.85"/>
<text x="384.2" y="72.3" class="lg" textLength="84.5" lengthAdjust="spacingAndGlyphs">M25ADCMMAE</text>
<path d="M364.7 87.2H381" stroke="#111" stroke-width="1.0"/>
<path d="M373.3 83.1L376.8 89.2L369.8 89.2Z" fill="none" stroke="#000" stroke-width="0.85"/>
<text x="384.2" y="91.2" class="lg" textLength="78.4" lengthAdjust="spacingAndGlyphs">CtrlADCMMAE</text>
</svg>
</body></html>
